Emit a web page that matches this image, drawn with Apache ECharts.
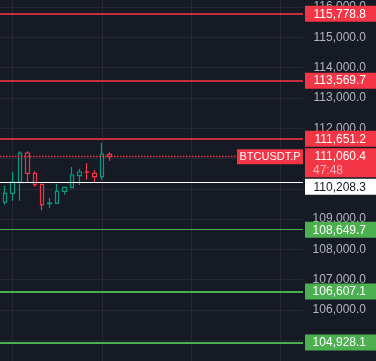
<!DOCTYPE html>
<html>
<head>
<meta charset="utf-8">
<style>
html,body{margin:0;padding:0;background:#161a25;overflow:hidden;}
#c{width:376px;height:361px;}
</style>
<script src="https://cdn.jsdelivr.net/npm/echarts@6/dist/echarts.min.js"></script>
</head>
<body>
<div id="c"></div>
<script>
// ---- data ----
// candles: [open, close, low, high]
const candles = [
  [109554, 109851, 109475, 110102],
  [109851, 110224, 109607, 110554],
  [110224, 111181, 109607, 111238],
  [111181, 110512, 110224, 111240],
  [110512, 110135, 110069, 110578],
  [110148, 109475, 109290, 110150],
  [109508, 109531, 109366, 109696],
  [109521, 109917, 109508, 110158],
  [109917, 110050, 109805, 110060],
  [110036, 110455, 110026, 110720],
  [110432, 110554, 110125, 110653],
  [110561, 110548, 110300, 110851],
  [110512, 110399, 110224, 110620],
  [110399, 111148, 110300, 111512],
  [111139, 111060.4, 110927, 111205]
];
const resistanceLevels = [115778.8, 113569.7, 111651.2];
const supportLevels = [108649.7, 106607.1, 104928.1];
const markedLevel = 110208.3;
const lastPrice = 111060.4;
const countdown = '47:48';
const symbolName = 'BTCUSDT.P';
const verticalGridBars = [1, 13, 25, 37];

// ---- styles ----
const BG = '#161a25';
const UP = '#089981';
const DOWN = '#f23645';
const RED_LINE = '#c62f3c';
const GREEN = '#4caf50';
const GRID = '#252833';
const FONT = '12px "Liberation Sans", Arial, sans-serif';
const FONT_SMALL = '11px "Liberation Sans", Arial, sans-serif';

function fmt(v) {
  return v.toLocaleString('en-US', {minimumFractionDigits: 1, maximumFractionDigits: 1});
}

const candleData = candles.map((c, i) => [i, c[0], c[1], c[2], c[3]]);

const resWidths = [2, 2, 2];
const supWidths = [1, 2, 2];
const levelLines = [];
resistanceLevels.forEach((v, i) => levelLines.push({yAxis: v, lineStyle: {color: RED_LINE, width: resWidths[i], type: 'solid'}}));
supportLevels.forEach((v, i) => levelLines.push({yAxis: v, lineStyle: {color: GREEN, width: supWidths[i], type: 'solid'}}));
levelLines.push({yAxis: markedLevel, lineStyle: {color: '#ffffff', width: 1.2, type: 'solid'}});
levelLines.push({yAxis: lastPrice, lineStyle: {color: DOWN, width: 1.3, type: [1.5, 1.5]}});

// tags
const tags = [];
resistanceLevels.forEach(v => tags.push({price: v, bg: DOWN, fg: '#ffffff', kind: 'level'}));
tags.push({price: lastPrice, bg: DOWN, fg: '#ffffff', kind: 'last'});
tags.push({price: markedLevel, bg: '#ffffff', fg: '#131722', kind: 'level'});
supportLevels.forEach(v => tags.push({price: v, bg: GREEN, fg: '#ffffff', kind: 'level'}));

function layoutTags(api) {
  const items = tags.map((t, i) => {
    const y = api.coord([0, t.price])[1];
    const h = t.kind === 'last' ? 29 : 16;
    const top = t.kind === 'last' ? y - 8.7 : y - 8;
    return {i, y, h, top};
  }).sort((a, b) => a.top - b.top);
  let prevBottom = -Infinity;
  const out = {};
  items.forEach(it => {
    if (it.top < prevBottom + 1.5) it.top = prevBottom + 1.5;
    prevBottom = it.top + it.h;
    out[it.i] = it;
  });
  return out;
}

const chart = echarts.init(document.getElementById('c'), null, {renderer: 'canvas'});
chart.setOption({
  backgroundColor: BG,
  animation: false,
  grid: {left: 0, right: 73, top: -23.3, bottom: -9.6, containLabel: false, outerBoundsMode: 'none'},
  xAxis: {
    type: 'value', min: -0.67, max: 40,
    show: false, splitLine: {show: false}
  },
  yAxis: {
    type: 'value', position: 'right', min: 104000, max: 117000, interval: 1000,
    axisLine: {show: false}, axisTick: {show: false},
    splitLine: {show: true, lineStyle: {color: GRID, width: 1}},
    axisLabel: {
      color: '#b2b5be', fontSize: 12, fontFamily: '"Liberation Sans", Arial, sans-serif',
      align: 'right', margin: 63, formatter: v => fmt(v)
    }
  },
  series: [
    {
      type: 'line', data: [], silent: true,
      markLine: {
        z: 1, silent: true, symbol: 'none', label: {show: false},
        lineStyle: {color: GRID, width: 1, type: 'solid'},
        data: verticalGridBars.map(b => ({xAxis: b}))
      }
    },
    {
      type: 'candlestick', data: candleData, barWidth: 4, z: 3,
      itemStyle: {color: BG, color0: BG, borderColor: UP, borderColor0: DOWN, borderWidth: 1.2},
      markLine: {
        z: 5, silent: true, symbol: 'none', label: {show: false},
        data: levelLines
      }
    },
    {
      type: 'custom', z: 10, silent: true,
      data: tags.map(t => [0, t.price]),
      renderItem: function (params, api) {
        const L = layoutTags(api);
        const it = L[params.dataIndex];
        const t = tags[params.dataIndex];
        const cs = params.coordSys;
        const right = cs.x + cs.width;
        const x0 = right + 2;
        const children = [
          {type: 'rect', shape: {x: x0, y: it.top, width: 376 - x0, height: it.h}, style: {fill: t.bg}},
          {type: 'text', style: {text: fmt(t.price), x: x0 + 61, y: it.top + 8.5, align: 'right', verticalAlign: 'middle', fill: t.fg, font: FONT}}
        ];
        if (t.kind === 'last') {
          children.push({type: 'text', style: {text: countdown, x: x0 + 8, y: it.top + 22, align: 'left', verticalAlign: 'middle', fill: 'rgba(255,255,255,0.62)', font: FONT}});
          children.push({type: 'rect', shape: {x: right - 66, y: it.y - 7.5, width: 66, height: 15}, style: {fill: DOWN}});
          children.push({type: 'text', style: {text: symbolName, x: right - 33, y: it.y, align: 'center', verticalAlign: 'middle', fill: '#ffffff', font: FONT_SMALL}});
        }
        return {type: 'group', children};
      }
    }
  ]
});
</script>
</body>
</html>
